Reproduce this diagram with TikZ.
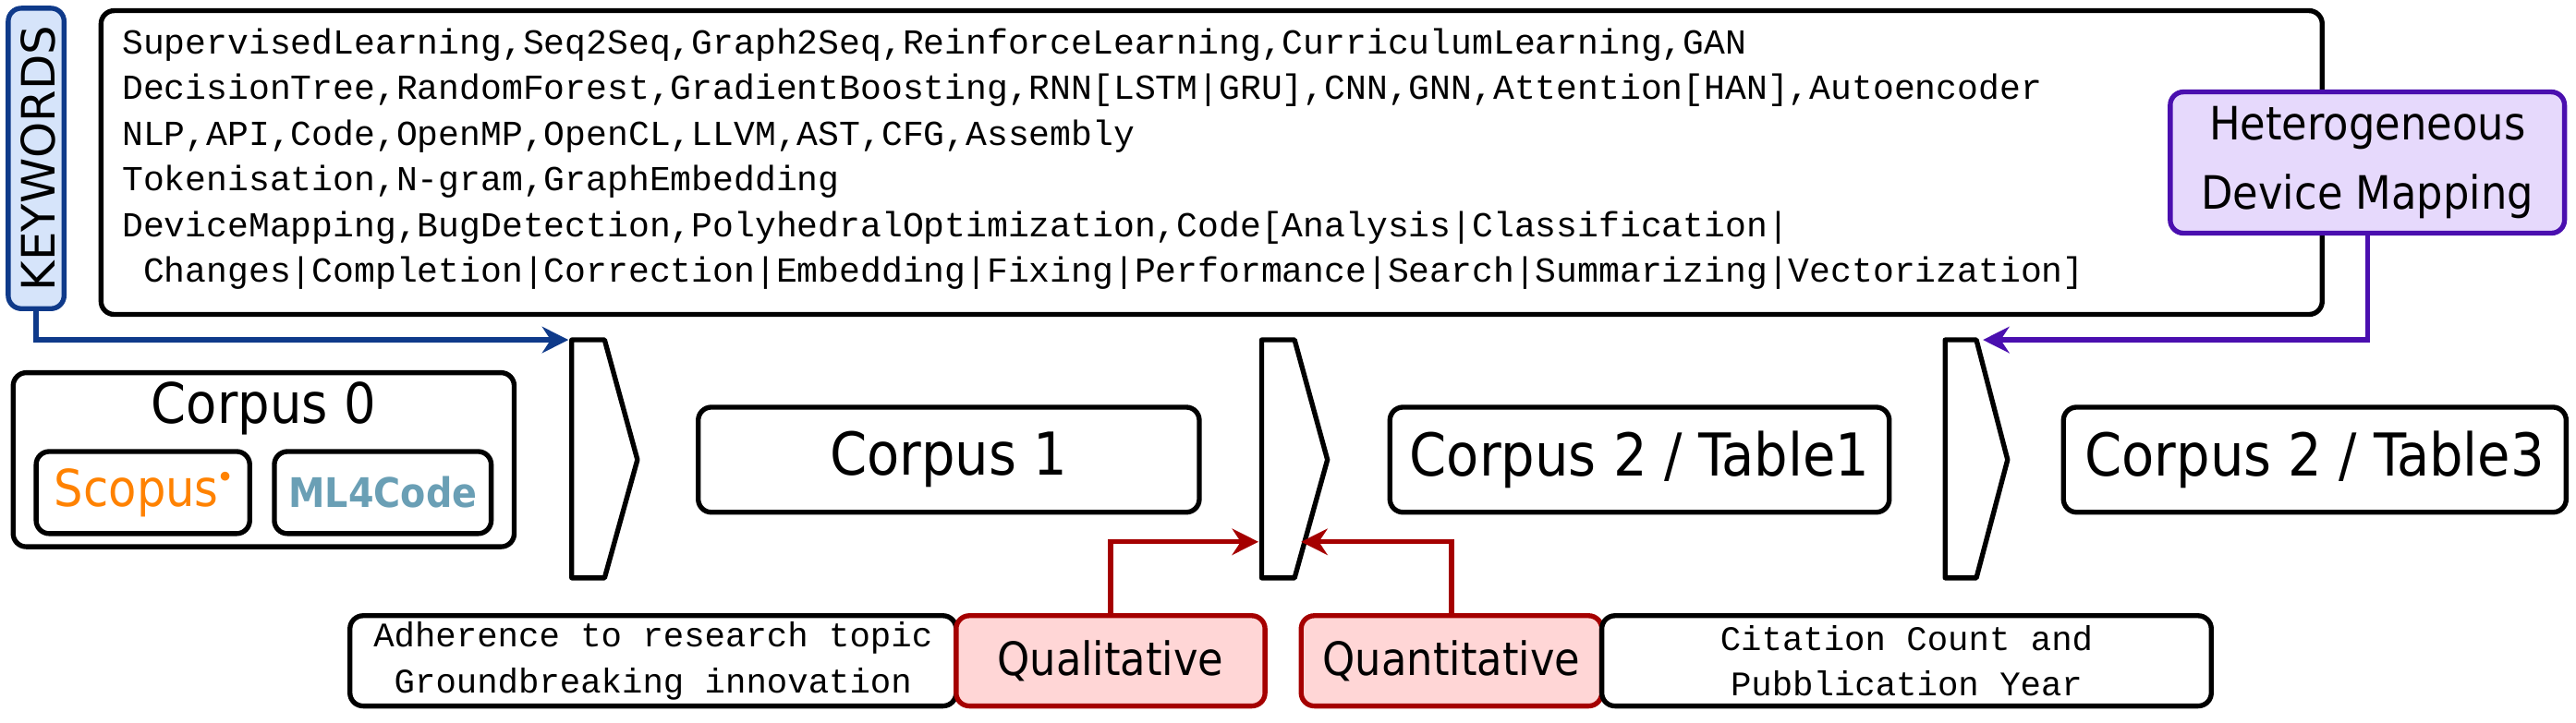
\documentclass[tikz,border=0pt]{standalone}
\usepackage{fontspec}
\setmainfont{DejaVu Sans Condensed}
\newfontfamily\kwfont{DejaVu Sans}
\newfontfamily\monof{Liberation Mono}
\usetikzlibrary{arrows.meta}
\definecolor{kwblue}{HTML}{D6E4FA}
\definecolor{kwbord}{HTML}{0F3A8A}
\definecolor{hetfill}{HTML}{E6D9FC}
\definecolor{hetbord}{HTML}{4A0FAF}
\definecolor{redfill}{HTML}{FFD6D6}
\definecolor{redbord}{HTML}{A50000}
\definecolor{scop}{HTML}{FF8200}
\definecolor{mlc}{HTML}{6A9FB5}
\begin{document}
\begin{tikzpicture}[x=0.5pt,y=-0.5pt,
  box/.style={draw=black,line width=1.5pt,rounded corners=4pt,fill=white},
  chev/.style={draw=black,line width=1.5pt,fill=white,line join=round},
  arr/.style={line width=1.5pt,-{Stealth[length=8pt,width=8pt]}},
  big/.style={font=\fontsize{18}{22}\selectfont},
  mid/.style={font=\fontsize{14}{18}\selectfont}]
\useasboundingbox (0,0) rectangle (1568,440);
% keywords
\node[box,minimum width=1352*0.5pt,minimum height=185*0.5pt,anchor=north west,inner sep=0pt] (kwbox) at (60,5) {};
\node[anchor=north west,align=left,inner sep=0pt,font=\monof\fontsize{10.7}{13.9}\selectfont] (kwtext) at (74,17) {SupervisedLearning,Seq2Seq,Graph2Seq,ReinforceLearning,CurriculumLearning,GAN\\
DecisionTree,RandomForest,GradientBoosting,RNN[LSTM|GRU],CNN,GNN,Attention[HAN],Autoencoder\\
NLP,API,Code,OpenMP,OpenCL,LLVM,AST,CFG,Assembly\\
Tokenisation,N-gram,GraphEmbedding\\
DeviceMapping,BugDetection,PolyhedralOptimization,Code[Analysis|Classification|\\
\ Changes|Completion|Correction|Embedding|Fixing|Performance|Search|Summarizing|Vectorization]};
\node[draw=kwbord,fill=kwblue,line width=1.5pt,rounded corners=4pt,minimum width=34*0.5pt,minimum height=183*0.5pt,inner sep=0pt] (kw) at (22,96.5) {};
\node[rotate=90,font=\kwfont\fontsize{14}{14}\selectfont] (kwlabel) at (23,96.5) {KEYWORDS};
% chevrons
\draw[chev] (348,207) -- (368,207) -- (388,280) -- (368,352) -- (348,352) -- cycle;
\draw[chev] (768,207) -- (788,207) -- (808,280) -- (788,352) -- (768,352) -- cycle;
\draw[chev] (1184,207) -- (1203,207) -- (1222,280) -- (1203,352) -- (1184,352) -- cycle;
\coordinate (c1top) at (346,207);
\coordinate (c2left) at (766,330);
\coordinate (c2right) at (792,330);
\coordinate (c3top) at (1207,207);
% corpus 0
\node[box,minimum width=305*0.5pt,minimum height=106*0.5pt,inner sep=0pt] (c0) at (160.5,280) {};
\node[font=\fontsize{17}{20}\selectfont] (c0t) at (160.5,249) {Corpus 0};
\node[box,minimum width=130*0.5pt,minimum height=50*0.5pt,inner sep=0pt,text=scop,font=\fontsize{15.5}{18}\selectfont] (scopus) at (87,300) {Scopus\raisebox{0.9ex}{\fontsize{6}{6}\selectfont$\bullet$}};
\node[box,minimum width=132*0.5pt,minimum height=50*0.5pt,inner sep=0pt,text=mlc,font=\bfseries\fontsize{12.4}{15}\selectfont] (ml) at (233,300) {ML4Code};
% corpus 1,2
\node[box,big,minimum width=305*0.5pt,minimum height=64*0.5pt,inner sep=0pt] (c1) at (577.5,280) {Corpus 1};
\node[box,big,minimum width=304*0.5pt,minimum height=64*0.5pt,inner sep=0pt] (c2) at (998,280) {Corpus 2 / Table1};
\node[box,big,minimum width=306*0.5pt,minimum height=64*0.5pt,inner sep=0pt] (c3) at (1409,280) {Corpus 2 / Table3};
% heterogeneous
\node[draw=hetbord,fill=hetfill,line width=1.5pt,rounded corners=4pt,minimum width=240*0.5pt,minimum height=86*0.5pt,inner sep=0pt,align=center,font=\fontsize{14}{21}\selectfont] (het) at (1441,99) {Heterogeneous\\Device Mapping};
% bottom
\node[box,minimum width=369*0.5pt,minimum height=55*0.5pt,inner sep=0pt,align=center,font=\monof\fontsize{10.5}{14}\selectfont] (adh) at (397.5,402.5) {Adherence to research topic\\Groundbreaking innovation};
\node[draw=redbord,fill=redfill,line width=1.5pt,rounded corners=4pt,minimum width=188*0.5pt,minimum height=55*0.5pt,inner sep=0pt,mid] (qual) at (676,402.5) {Qualitative};
\node[draw=redbord,fill=redfill,line width=1.5pt,rounded corners=4pt,minimum width=183*0.5pt,minimum height=55*0.5pt,inner sep=0pt,mid] (quan) at (883.5,402.5) {Quantitative};
\node[box,minimum width=371*0.5pt,minimum height=55*0.5pt,inner sep=0pt,align=center,font=\monof\fontsize{10.5}{14}\selectfont] (cit) at (1160.5,402.5) {Citation Count and\\Pubblication Year};
% arrows
\draw[arr,draw=kwbord] (kw.south) |- (c1top);
\draw[arr,draw=hetbord] (het.south) |- (c3top);
\draw[arr,draw=redbord] (qual.north) |- (c2left);
\draw[arr,draw=redbord] (quan.north) |- (c2right);
\end{tikzpicture}
\end{document}
